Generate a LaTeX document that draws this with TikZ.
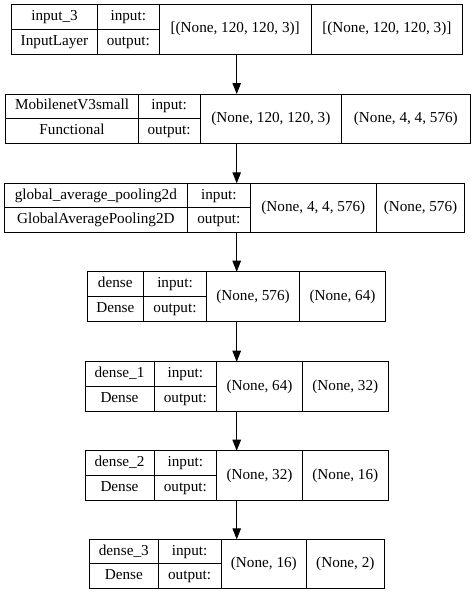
\documentclass[tikz,border=0pt]{standalone}
\usepackage{fontspec}
\setmainfont{Liberation Serif}
\usetikzlibrary{arrows.meta}
\tikzset{
  cell/.style={draw=black, line width=0.9pt, rectangle, inner sep=0pt, outer sep=0pt,
    font=\fontsize{15.2}{18}\selectfont, text height=10.5pt, text depth=3.2pt, align=center},
  rowanchor/.style={inner sep=0pt, outer sep=0pt, minimum width=0pt},
  flow/.style={draw=black, line width=0.9pt, -{Triangle[length=11pt,width=8.5pt]}}
}
\begin{document}
\begin{tikzpicture}[x=1pt,y=-1pt]
\fill[white] (0,0) rectangle (474,594);
\useasboundingbox (0,0) rectangle (474,594);
\foreach \n/\l/\a/\b/\c/\r/\t/\bt/\nm/\ty/\si/\so in {
  r1/11.7/97.3/159.3/311/462.7/4.3/54.3/{input\_3}/{InputLayer}/{[(None, 120, 120, 3)]}/{[(None, 120, 120, 3)]},
  r2/5.7/138.3/200/341.7/470/94/143.3/{MobilenetV3small}/{Functional}/{(None, 120, 120, 3)}/{(None, 4, 4, 576)},
  r3/4/187.7/250/376.7/464.3/183.3/232.3/{global\_average\_pooling2d}/{GlobalAveragePooling2D}/{(None, 4, 4, 576)}/{(None, 576)},
  r4/87.3/143.3/206.7/299.3/385.7/271.7/321/{dense}/{Dense}/{(None, 576)}/{(None, 64)},
  r5/85/154/216.7/302.3/388.3/361.7/411/{dense\_1}/{Dense}/{(None, 64)}/{(None, 32)},
  r6/85/154/216.7/302.3/388.3/450.7/500/{dense\_2}/{Dense}/{(None, 32)}/{(None, 16)},
  r7/89.3/158.3/221/306.7/384/539.3/588.3/{dense\_3}/{Dense}/{(None, 16)}/{(None, 2)}%
}{
  \pgfmathsetmacro\m{(\t+\bt)/2}
  \node[cell, minimum width=\a-\l, minimum height=\m-\t] (\n-name) at ({(\l+\a)/2},{(\t+\m)/2}) {\nm};
  \node[cell, minimum width=\a-\l, minimum height=\bt-\m] (\n-type) at ({(\l+\a)/2},{(\m+\bt)/2}) {\ty};
  \node[cell, minimum width=\b-\a, minimum height=\m-\t] (\n-inlab) at ({(\a+\b)/2},{(\t+\m)/2}) {input:};
  \node[cell, minimum width=\b-\a, minimum height=\bt-\m] (\n-outlab) at ({(\a+\b)/2},{(\m+\bt)/2}) {output:};
  \node[cell, minimum width=\c-\b, minimum height=\bt-\t] (\n-inshape) at ({(\b+\c)/2},{(\t+\bt)/2}) {\si};
  \node[cell, minimum width=\r-\c, minimum height=\bt-\t] (\n-outshape) at ({(\c+\r)/2},{(\t+\bt)/2}) {\so};
  \node[rowanchor, minimum height=\bt-\t] (\n) at (236.7,{(\t+\bt)/2}) {};
}
\draw[flow] (r1.south) -- (r2.north);
\draw[flow] (r2.south) -- (r3.north);
\draw[flow] (r3.south) -- (r4.north);
\draw[flow] (r4.south) -- (r5.north);
\draw[flow] (r5.south) -- (r6.north);
\draw[flow] (r6.south) -- (r7.north);
\end{tikzpicture}
\end{document}
